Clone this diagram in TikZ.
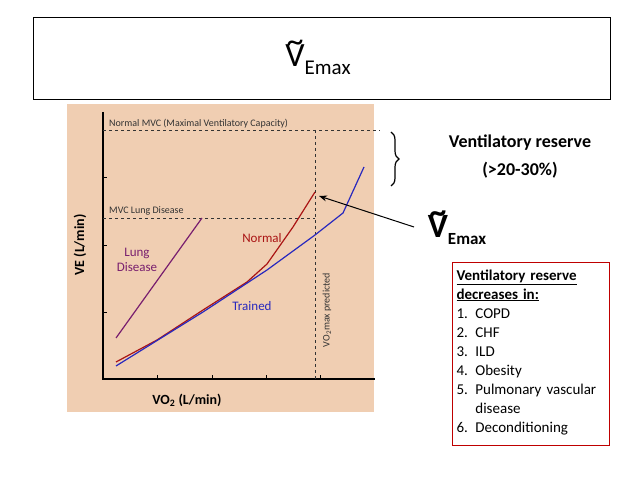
\documentclass[tikz,border=0pt]{standalone}
\usepackage{fontspec}
\setmainfont{Carlito}
\usetikzlibrary{decorations.pathreplacing,arrows.meta}
\definecolor{tan}{RGB}{240,206,178}
\definecolor{nred}{RGB}{170,20,20}
\definecolor{tblue}{RGB}{40,40,190}
\definecolor{lpurp}{RGB}{120,30,110}
\newcommand{\tV}{\ooalign{V\cr\hidewidth\raisebox{0.42em}{\char`~}\hidewidth\cr}}
\tikzset{dline/.style={dashed,line width=0.6pt,black!80},
lbl/.style={inner sep=0pt,font=\fontsize{10}{11}\selectfont,text=black!80}}
\begin{document}
\begin{tikzpicture}[x=1pt,y=-1pt]
\useasboundingbox (0,0) rectangle (638,478);
\node[draw,line width=1pt,minimum width=577,minimum height=82,anchor=north west] (title) at (33,17) {};
\node (tt) at (318,60) {\fontsize{34}{36}\selectfont \tV\raisebox{-8pt}{\fontsize{21}{22}\selectfont Emax}};
\fill[tan] (67,104) rectangle (374,412);
% axes
\coordinate (o) at (103,379);
\coordinate (yt) at (103,112);
\coordinate (xr) at (375,379);
\draw[line width=1.2pt] (yt) -- (o) -- (xr);
\foreach \y in {178,246,313} \draw[line width=1pt] (103,\y) -- (107,\y);
\foreach \x in {157,212,266,320} \draw[line width=1pt] (\x,379) -- (\x,375);
\draw[dline] (103,130) -- (380,130);
\draw[dline] (315,130) -- (315,379);
\draw[dline] (103,218) -- (315,218);
\node[lbl,anchor=south west] (nmvc) at (109,128) {Normal MVC (Maximal Ventilatory Capacity)};
\node[lbl,anchor=south west] (lmvc) at (109,215) {MVC Lung Disease};
\node[lbl,rotate=90] (vpred) at (327,310) {VO\textsubscript{2}max predicted};
\draw[lpurp,line width=1.2pt] (116,338) -- (202,218);
\draw[nred,line width=1.2pt] (116,362) -- (157,340) -- (203,310) -- (247,282) -- (267,264) -- (293,227) -- (315,192);
\draw[tblue,line width=1.2pt] (116,366) -- (203,312) -- (267,270) -- (315,235) -- (343,213) -- (364,167);
\node[lpurp,align=center,font=\fontsize{13}{15}\selectfont] (ld) at (137,260) {Lung\\Disease};
\node[nred,font=\fontsize{13}{15}\selectfont] (nl) at (262,238) {Normal};
\node[tblue,font=\fontsize{13}{15}\selectfont] (tl) at (252,306) {Trained};
\node[rotate=90,font=\bfseries\fontsize{14}{16}\selectfont] (yl) at (80,245) {VE (L/min)};
\node[font=\bfseries\fontsize{14}{16}\selectfont] (xl) at (187,400) {VO\textsubscript{2} (L/min)};
% right side
\coordinate (b1) at (391,132);
\coordinate (b2) at (391,186);
\draw[line width=1.2pt,decorate,decoration={brace,amplitude=8pt}] (b1) -- (b2);
\node[align=center,font=\bfseries\fontsize{18}{28}\selectfont] (vr) at (520,157) {Ventilatory reserve\\(>20-30\%)};
\node[font=\bfseries] (ve) at (457,230) {\fontsize{34}{36}\selectfont \tV\raisebox{-7pt}{\fontsize{17}{18}\selectfont Emax}};
\coordinate (tip) at (319,196);
\draw[-{Stealth[length=8pt]},line width=1pt] (414,227) -- (tip);
\node[draw=red!75!black,line width=0.8pt,anchor=north west,minimum width=157,minimum height=183] (rb) at (452,262) {};
\node[anchor=north west,align=left,font=\fontsize{15}{19}\selectfont,text width=155] (list) at (453,266) {\textbf{\underline{Ventilatory reserve}}\\\textbf{\underline{decreases in:}}\\
1.\enspace COPD\\2.\enspace CHF\\3.\enspace ILD\\4.\enspace Obesity\\5.\enspace Pulmonary vascular\\\phantom{5.\enspace}disease\\6.\enspace Deconditioning};
\end{tikzpicture}
\end{document}
